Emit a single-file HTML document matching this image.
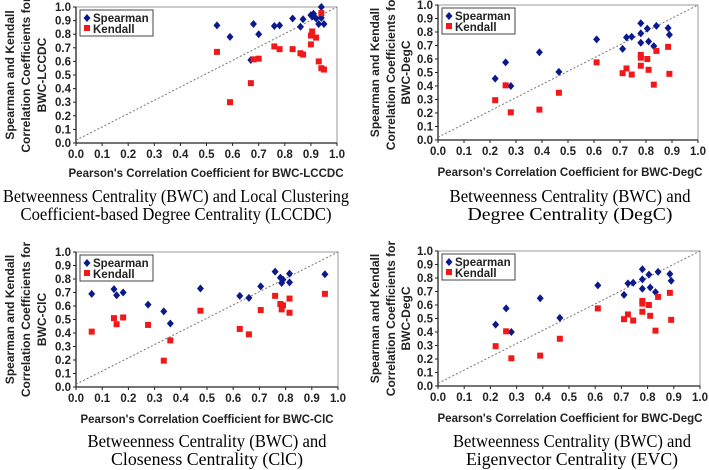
<!DOCTYPE html>
<html><head><meta charset="utf-8"><style>
body{margin:0;background:#fff;width:709px;height:470px;overflow:hidden}
svg{display:block}
.t{font-family:"Liberation Sans",Arial,sans-serif;font-weight:bold;fill:#222}
.c{font-family:"Liberation Serif","Times New Roman",serif;font-size:18px;fill:#000}
</style></head><body>
<svg id="s" width="709" height="470"></svg>
<script>
const ticks=["0.0","0.1","0.2","0.3","0.4","0.5","0.6","0.7","0.8","0.9","1.0"];
const p1SpX=[0.54,0.59,0.68,0.67,0.70,0.76,0.78,0.83,0.86,0.87,0.90,0.91,0.905,0.92,0.94,0.94,0.93,0.95];
const p1SpY=[0.865,0.78,0.875,0.61,0.80,0.86,0.865,0.915,0.855,0.91,0.94,0.95,0.93,0.915,1.0,0.92,0.875,0.875];
const p1KeX=[0.54,0.59,0.67,0.68,0.70,0.76,0.78,0.83,0.86,0.87,0.90,0.90,0.905,0.92,0.93,0.94,0.94,0.95];
const p1KeY=[0.67,0.30,0.44,0.615,0.62,0.71,0.69,0.69,0.66,0.65,0.725,0.79,0.82,0.775,0.60,0.955,0.55,0.54];
const p2X=[0.22,0.26,0.28,0.39,0.465,0.61,0.71,0.725,0.745,0.78,0.78,0.78,0.805,0.81,0.83,0.84,0.885,0.89];
const p2SpY=[0.455,0.575,0.40,0.65,0.505,0.745,0.675,0.76,0.765,0.865,0.79,0.72,0.825,0.73,0.695,0.845,0.83,0.78];
const p2KeY=[0.295,0.405,0.205,0.225,0.35,0.575,0.495,0.53,0.485,0.63,0.61,0.55,0.60,0.52,0.41,0.66,0.69,0.49];
const p3X=[0.06,0.145,0.155,0.18,0.275,0.335,0.36,0.475,0.625,0.66,0.705,0.76,0.78,0.79,0.785,0.815,0.815,0.95];
const p3SpY=[0.69,0.725,0.68,0.70,0.61,0.56,0.47,0.73,0.675,0.66,0.745,0.855,0.81,0.795,0.77,0.84,0.775,0.835];
const p3KeY=[0.41,0.51,0.465,0.515,0.46,0.195,0.345,0.565,0.43,0.39,0.57,0.675,0.615,0.605,0.575,0.655,0.55,0.69];

const NS="http://www.w3.org/2000/svg",S=document.getElementById('s');
function mk(tag,at,par,txt){const e=document.createElementNS(NS,tag);for(const k in at)e.setAttribute(k,at[k]);if(txt!=null)e.textContent=txt;(par||S).appendChild(e);return e;}
const panels=[
 {id:'lccdc',x0:76,x1:337,y0:143,y1:7,name:'BWC-LCCDC',spx:p1SpX,spy:p1SpY,kex:p1KeX,key:p1KeY,ytx:[10,26,42],
  xtX:206,xtY:177,xtW:275,cap:["Betweenness Centrality (BWC) and Local Clustering","Coefficient-based Degree Centrality (LCCDC)"],capY:[202,220],capX:176,capW:[346,311]},
 {id:'degc',x0:438,x1:698,y0:140,y1:5,name:'BWC-DegC',spx:p2X,spy:p2SpY,kex:p2X,key:p2KeY,ytx:[375,391,406],
  xtX:570,xtY:176,xtW:265,cap:["Betweenness Centrality (BWC) and","Degree Centrality (DegC)"],capY:[202,220],capX:570,capW:[241,205]},
 {id:'clc',x0:76,x1:338,y0:387,y1:252,name:'BWC-ClC',spx:p3X,spy:p3SpY,kex:p3X,key:p3KeY,ytx:[10,26,42],
  xtX:207,xtY:423,xtW:253,cap:["Betweenness Centrality (BWC) and","Closeness Centrality (ClC)"],capY:[447,465],capX:207,capW:[239,192]},
 {id:'evc',x0:438,x1:700,y0:386,y1:251,name:'BWC-DegC',spx:p2X,spy:p2SpY,kex:p2X,key:p2KeY,ytx:[375,391,406],
  xtX:570,xtY:422,xtW:265,cap:["Betweenness Centrality (BWC) and","Eigenvector Centrality (EVC)"],capY:[447,465],capX:572,capW:[238,212]}
];
panels.forEach(P=>{
 const g=mk('g',{});
 
 
 const sx=v=>P.x0+v*(P.x1-P.x0), sy=v=>P.y0-v*(P.y0-P.y1);
 const fr=mk('rect',{x:P.x0,y:P.y1,width:P.x1-P.x0,height:P.y0-P.y1,fill:'#fff',stroke:'#999','stroke-width':1},g);
 
 mk('line',{x1:P.x0,x2:P.x1,y1:P.y0,y2:P.y0,stroke:'#222','stroke-width':1.3},g);
 mk('line',{x1:P.x0,x2:P.x0,y1:P.y1,y2:P.y0,stroke:'#222','stroke-width':1.3},g);
 ticks.forEach((t,i)=>{const v=i/10;
  mk('line',{x1:sx(v),x2:sx(v),y1:P.y0,y2:P.y0+3,stroke:'#222'},g);
  mk('line',{x1:P.x0-3,x2:P.x0,y1:sy(v),y2:sy(v),stroke:'#222'},g);
  const xl=mk('text',{x:sx(v),y:P.y0+15,'text-anchor':'middle','font-size':11.5,class:'t'},g,t);
  
  const yl=mk('text',{x:P.x0-5,y:sy(v)+4,'text-anchor':'end','font-size':11.5,class:'t'},g,t);
  
 });
 const d=mk('line',{x1:sx(0),y1:sy(0.02),x2:sx(1),y2:sy(1),stroke:'#777','stroke-dasharray':'2,2'},g);
 
 P.spx.forEach((x,i)=>{const cx=sx(x),cy=sy(P.spy[i]);
  const m=mk('polygon',{points:`${cx},${cy-4} ${cx+3.5},${cy} ${cx},${cy+4} ${cx-3.5},${cy}`,fill:'#0a1a8c'},g);
  });
 P.kex.forEach((x,i)=>{const cx=sx(x),cy=sy(P.key[i]);
  const m=mk('rect',{x:cx-3,y:cy-3,width:6,height:6,fill:'#f01818'},g);
  });
 const lg=mk('g',{},g);
 const lx=P.x0+4,ly=P.y1+3;
 mk('rect',{x:lx,y:ly,width:73,height:26,fill:'#fff',stroke:'#444'},lg);
 mk('polygon',{points:`${lx+7},${ly+4} ${lx+10.5},${ly+8} ${lx+7},${ly+12} ${lx+3.5},${ly+8}`,fill:'#0a1a8c'},lg);
 mk('text',{x:lx+13,y:ly+12,'font-size':11.5,class:'t'},lg,'Spearman');
 mk('rect',{x:lx+4,y:ly+15,width:6,height:6,fill:'#f01818'},lg);
 mk('text',{x:lx+13,y:ly+23,'font-size':11.5,class:'t'},lg,'Kendall');
 const xt=mk('text',{x:P.xtX,y:P.xtY,'text-anchor':'middle','font-size':12,class:'t',textLength:P.xtW,lengthAdjust:'spacingAndGlyphs'},g,"Pearson's Correlation Coefficient for "+P.name);
 
 const cy=(P.y0+P.y1)/2;
 ["Spearman and Kendall","Correlation Coefficients for",P.name].forEach((s,i)=>{
  const yt=mk('text',{x:P.ytx[i]+4,y:cy,transform:`rotate(-90 ${P.ytx[i]+4} ${cy})`,'text-anchor':'middle','font-size':12,class:'t'},g,s);
  
 });
 P.cap.forEach((s,i)=>{const c=mk('text',{x:P.capX,y:P.capY[i],'text-anchor':'middle',class:'c',textLength:P.capW[i],lengthAdjust:'spacingAndGlyphs'},g,s);
  });
});
</script>
</body></html>
